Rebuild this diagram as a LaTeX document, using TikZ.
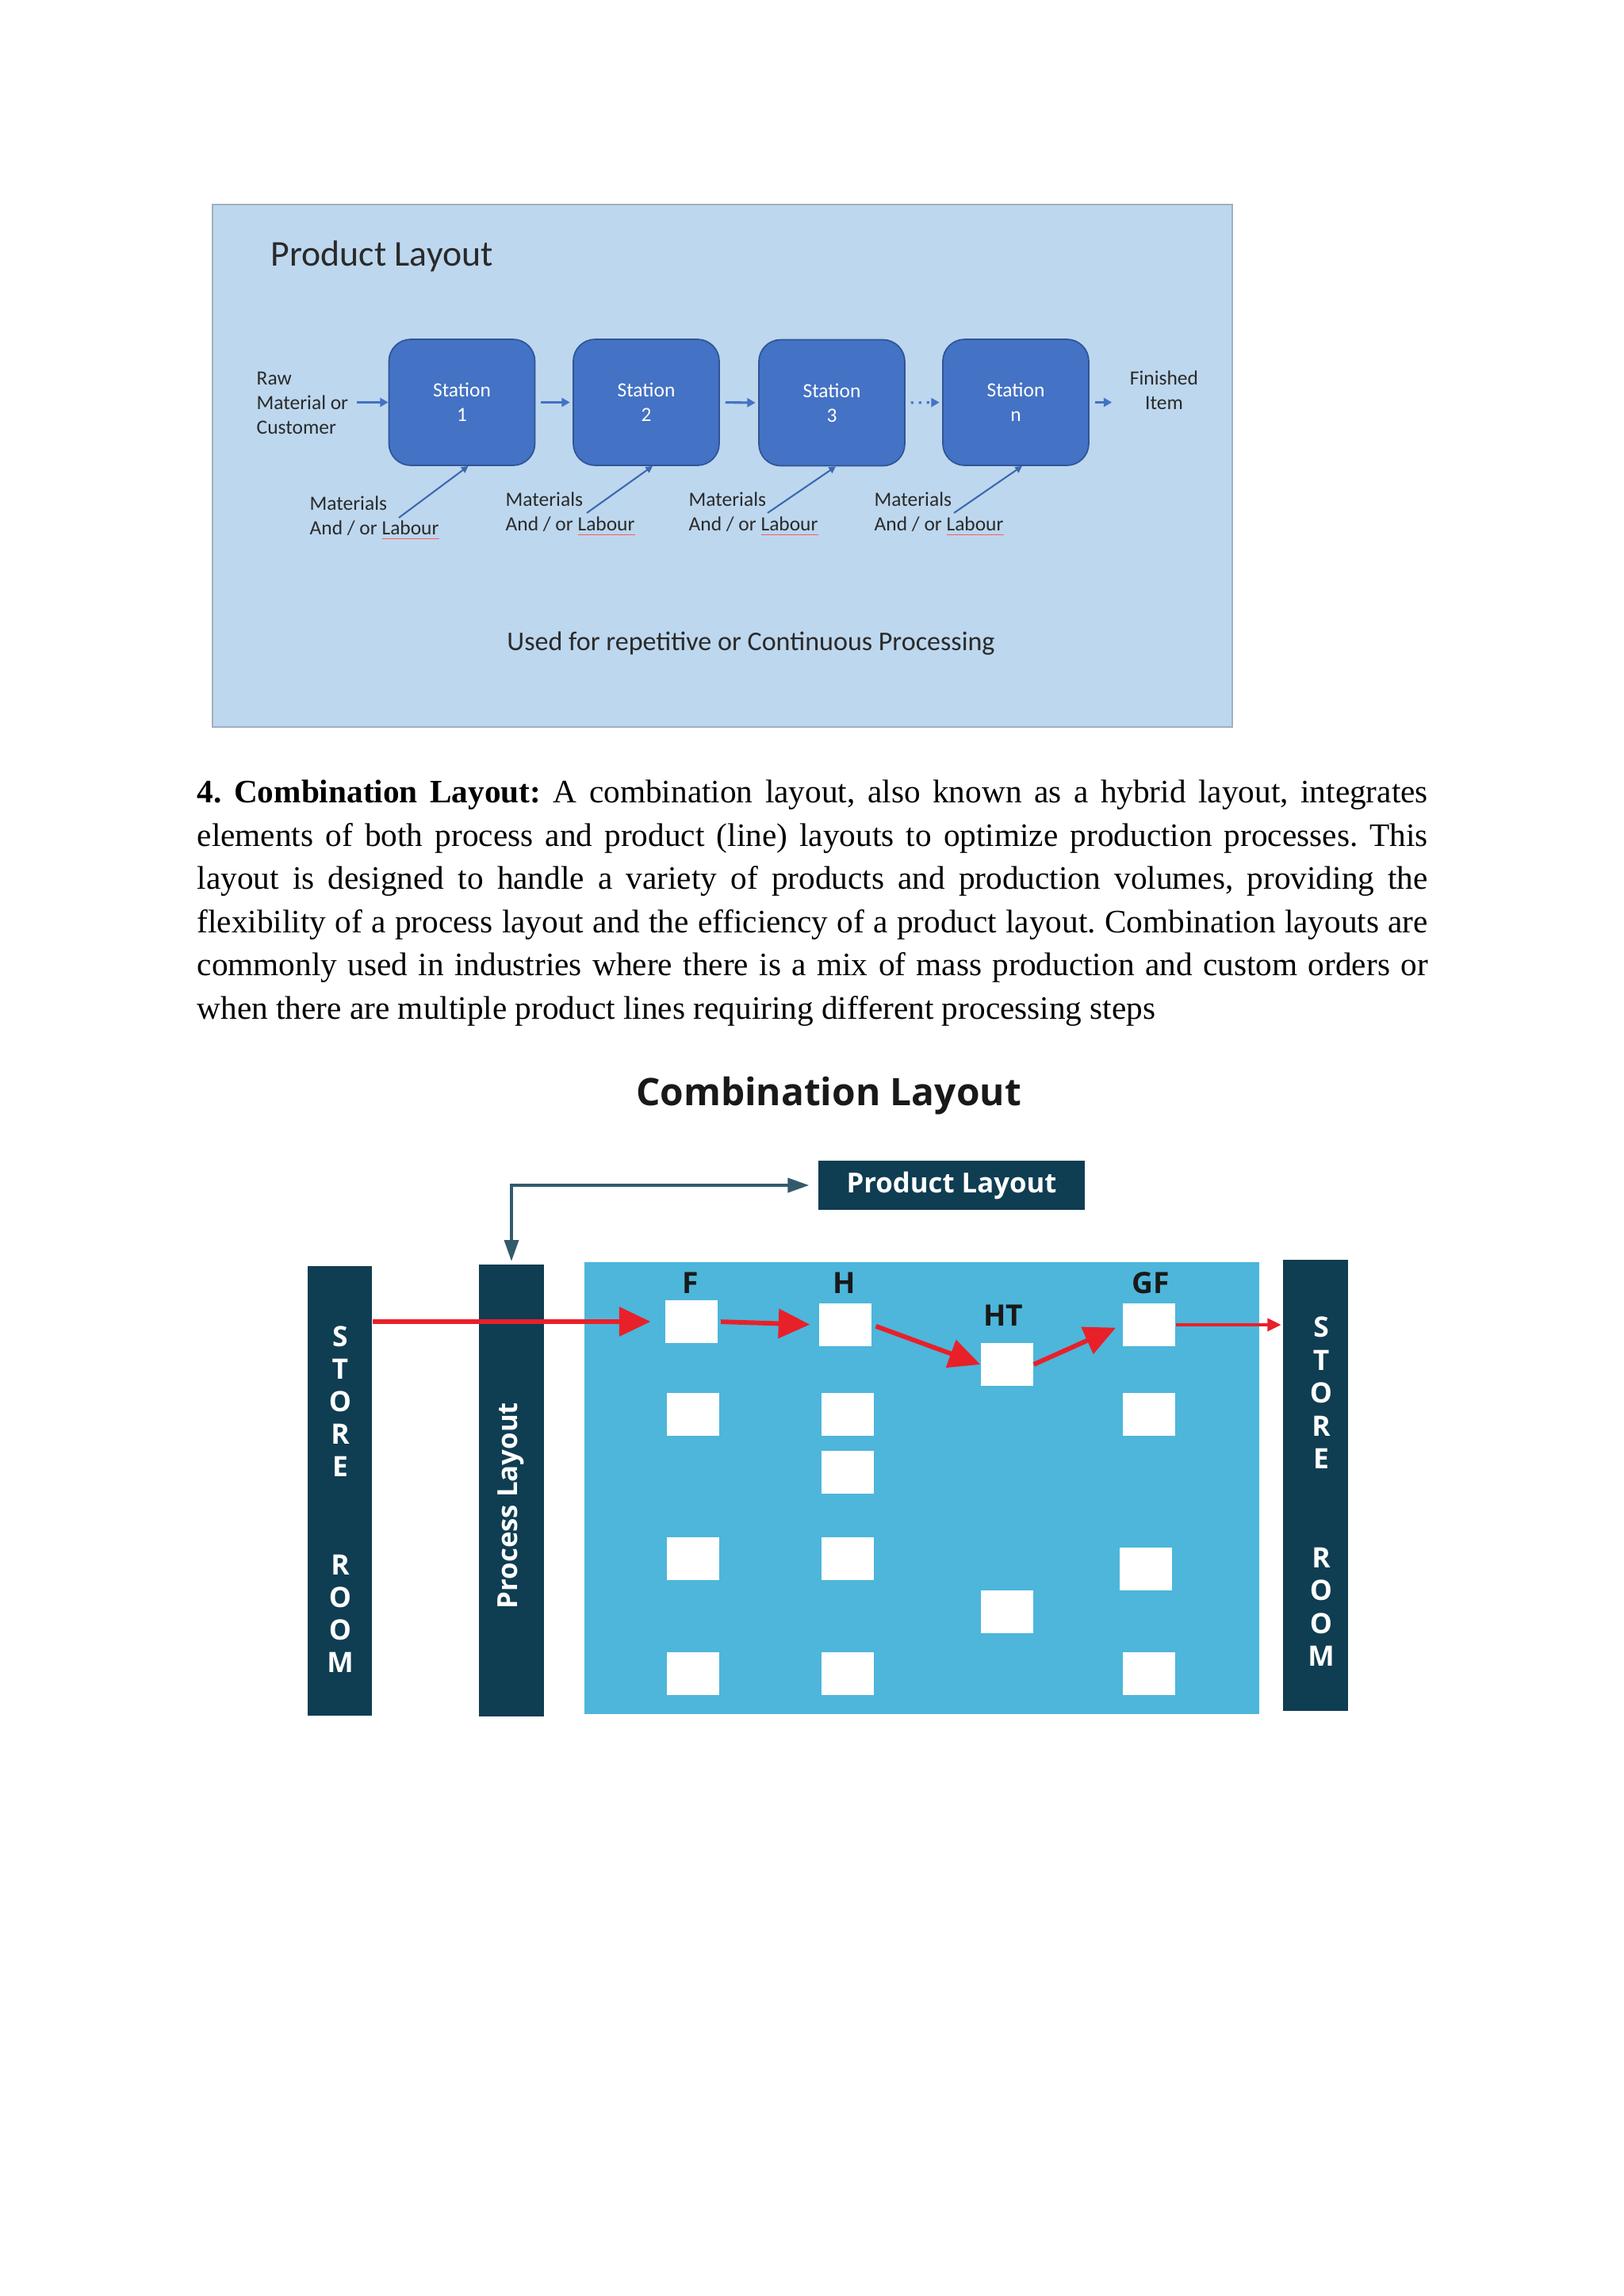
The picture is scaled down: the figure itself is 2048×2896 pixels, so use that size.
\documentclass[tikz,border=0pt]{standalone}
\usepackage{fontspec}
\setmainfont{Liberation Serif}
\newfontfamily\calib{Carlito}
\newfontfamily\osans{Open Sans}
\usetikzlibrary{arrows.meta,calc}
\frenchspacing
\def\PX{0.2907pt}
\definecolor{plbg}{HTML}{BDD7EE}
\definecolor{plframe}{HTML}{9FB0C0}
\definecolor{stfill}{HTML}{4472C4}
\definecolor{stdraw}{HTML}{2F5597}
\definecolor{pltext}{HTML}{2A2A2A}
\definecolor{cdark}{HTML}{0F3D52}
\definecolor{cblue}{HTML}{4DB6DA}
\definecolor{cred}{HTML}{E8202A}
\newcommand\lab{\textcolor{red!65}{\underline{\textcolor{pltext}{Labour}}}}
\tikzset{
 plsmall/.style={font=\calib\fontsize{7.4}{9}\selectfont, text=pltext, inner sep=0pt},
 station/.style={draw=stdraw, line width=0.5pt, fill=stfill, rounded corners=8pt,
   minimum width=184*\PX, minimum height=159*\PX, align=center, text=white,
   font=\calib\fontsize{7.4}{9}\selectfont, inner sep=0pt},
 parrow/.style={draw=stfill, line width=0.9pt, -{Triangle[length=3pt,width=3.2pt]}},
 darr/.style={draw=stfill!90!black, line width=0.6pt, -{Triangle[length=2.5pt,width=2.5pt]}},
 para/.style={anchor=base west, inner sep=0pt, font=\fontsize{12}{14}\selectfont},
 bar/.style={fill=cdark, inner sep=0pt},
 sq/.style={fill=white, inner sep=0pt, minimum width=66*\PX, minimum height=54*\PX},
 clabel/.style={font=\osans\bfseries\fontsize{10.8}{12}\selectfont, text=black!90, inner sep=0pt},
 storel/.style={font=\osans\bfseries\fontsize{10.3}{12}\selectfont, text=white, inner sep=0pt},
 redarrow/.style={draw=cred, line width=1.7pt, -{Triangle[length=11.5pt,width=10.5pt]}},
 redsmall/.style={draw=cred, line width=1.1pt, -{Triangle[length=5pt,width=4.6pt]}},
 tealarrow/.style={draw=cdark!85!white, line width=1.1pt,
   {Triangle[length=7.8pt,width=5.2pt]}-{Triangle[length=7.8pt,width=5.2pt]}},
}
\begin{document}
\begin{tikzpicture}[x=\PX,y=-\PX]
\useasboundingbox[fill=white] (0,0) rectangle (2048,2896);

% ---------- Product layout figure ----------
\draw[draw=plframe, fill=plbg, line width=0.6pt] (268,258) rectangle (1554,917);
\node[font=\calib\fontsize{13.3}{16}\selectfont, text=pltext, anchor=west, inner sep=0pt] (pltitle) at (341,323) {Product Layout};

\node[station] (s1) at (582.5,507.5) {Station\\1};
\node[station] (s2) at (815,507.5) {Station\\2};
\node[station] (s3) at (1049,508) {Station\\3};
\node[station] (sn) at (1281,507.5) {Station\\n};

\node[plsmall, anchor=west, align=left] (raw) at (323,508) {Raw\\Material or\\Customer};
\node[plsmall, align=center] (fin) at (1468,492) {Finished\\Item};

\draw[parrow, shorten <=3pt] (raw.east |- s1.west) -- (s1.west);
\draw[parrow, shorten <=2pt, shorten >=1pt] (s1.east) -- (s2.west);
\draw[parrow, shorten <=2pt, shorten >=1pt] (s2.east) -- (s3.west);
\draw[parrow, dotted, shorten <=2pt, shorten >=1pt] (s3.east) -- (sn.west);
\draw[parrow, shorten <=2pt, shorten >=6.4pt] (sn.east) -- (fin.west |- sn.east);

\node[plsmall, anchor=west, align=left] (m1) at (390,654) {Materials\\And / or \lab};
\node[plsmall, anchor=west, align=left] (m2) at (637,649) {Materials\\And / or \lab};
\node[plsmall, anchor=west, align=left] (m3) at (868,649) {Materials\\And / or \lab};
\node[plsmall, anchor=west, align=left] (m4) at (1102,649) {Materials\\And / or \lab};
\coordinate (t1) at (503,653);
\coordinate (t2) at (740,647);
\coordinate (t3) at (968,647);
\coordinate (t4) at (1203,647);
\draw[darr] (t1) -- ([xshift=8*\PX]s1.south);
\draw[darr] (t2) -- ([xshift=8*\PX]s2.south);
\draw[darr] (t3) -- ([xshift=5*\PX]s3.south);
\draw[darr] (t4) -- ([xshift=8*\PX]sn.south);

\node[font=\calib\fontsize{9.9}{12}\selectfont, text=pltext, inner sep=0pt] (used) at (947,812) {Used for repetitive or Continuous Processing};

% ---------- Paragraph ----------
\node[para] (p1) at (248,1012) {\makebox[451.2pt][s]{\textbf{4. Combination Layout:} A combination layout, also known as a hybrid layout, integrates}};
\node[para] (p2) at (248,1067) {\makebox[451.2pt][s]{elements of both process and product (line) layouts to optimize production processes. This}};
\node[para] (p3) at (248,1121) {\makebox[451.2pt][s]{layout is designed to handle a variety of products and production volumes, providing the}};
\node[para] (p4) at (248,1176) {\makebox[451.2pt][s]{flexibility of a process layout and the efficiency of a product layout. Combination layouts are}};
\node[para] (p5) at (248,1230) {\makebox[451.2pt][s]{commonly used in industries where there is a mix of mass production and custom orders or}};
\node[para] (p6) at (248,1285) {when there are multiple product lines requiring different processing steps};

% ---------- Combination layout figure ----------
\node[font=\osans\bfseries\fontsize{13.9}{16}\selectfont, text=black!90, inner sep=0pt] (ctitle) at (1045,1382) {Combination Layout};
\node[bar, minimum width=336*\PX, minimum height=62*\PX, text=white,
  font=\osans\bfseries\fontsize{10.1}{12}\selectfont] (prodbox) at (1200,1495) {Product Layout};

\node[bar, minimum width=81*\PX, minimum height=567*\PX] (lstore) at (428.5,1880.5) {};
\node[bar, minimum width=82*\PX, minimum height=570*\PX] (procbar) at (645,1880) {};
\node[fill=cblue, inner sep=0pt, minimum width=851*\PX, minimum height=570*\PX] (area) at (1162.5,1877) {};
\node[bar, minimum width=82*\PX, minimum height=569*\PX] (rstore) at (1659,1873.5) {};

\node[font=\osans\bfseries\fontsize{10.1}{12}\selectfont, text=white, rotate=90, inner sep=0pt] (proctext) at (644,1899) {Process Layout};

\foreach \ch/\yy [count=\i] in {S/1686,T/1727,O/1768,R/1809,E/1850,R/1974,O/2015,O/2056,M/2097}
  \node[storel] (ls\i) at (429,\yy) {\ch};
\foreach \ch/\yy [count=\i] in {S/1674,T/1715.5,O/1757,R/1798.5,E/1840,R/1964.5,O/2006,O/2047.5,M/2089}
  \node[storel] (rs\i) at (1666,\yy) {\ch};

\draw[tealarrow, shorten <=3.2pt, shorten >=1pt] (prodbox.west) -| (procbar.north);

% squares
\node[sq] (f1) at (872,1667) {};
\node[sq] (f2) at (874,1784) {};
\node[sq] (f4) at (874,1966) {};
\node[sq] (f5) at (874,2111) {};
\node[sq] (h1) at (1066,1671) {};
\node[sq] (h2) at (1069,1784) {};
\node[sq] (h3) at (1069,1857) {};
\node[sq] (h4) at (1069,1966) {};
\node[sq] (h5) at (1069,2111) {};
\node[sq] (ht1) at (1270,1721) {};
\node[sq] (ht2) at (1270,2033) {};
\node[sq] (g1) at (1449,1671) {};
\node[sq] (g2) at (1449,1784) {};
\node[sq] (g4) at (1445,1979) {};
\node[sq] (g5) at (1449,2111) {};

\node[clabel] (lf) at (871,1618) {F};
\node[clabel] (lh) at (1065,1618) {H};
\node[clabel] (lht) at (1265,1659) {HT};
\node[clabel] (lgf) at (1451,1618) {GF};

\draw[redarrow, shorten >=5.2pt] (lstore.east |- f1.west) -- (f1.west);
\draw[redarrow, shorten <=1pt, shorten >=3.2pt] (f1.east) -- (h1.west);
\draw[redarrow, shorten <=1.5pt] (h1.east) -- (ht1.west);
\draw[redarrow, shorten >=2.6pt] (ht1.east) -- (g1.west);
\draw[redsmall, shorten >=0.5pt] (g1.east) -- (rstore.west |- g1.east);
\end{tikzpicture}
\end{document}
